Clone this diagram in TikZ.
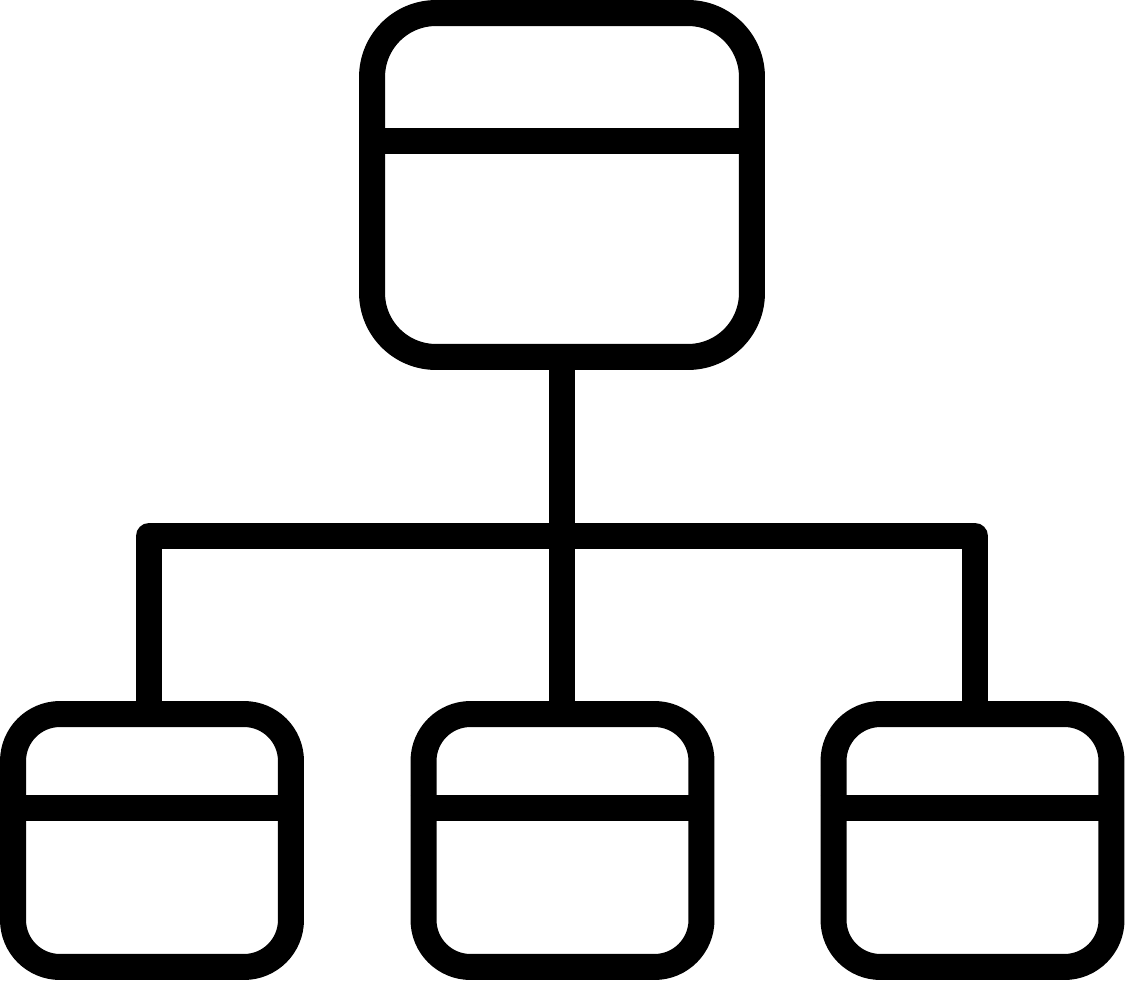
\documentclass[tikz,border=0pt]{standalone}
\begin{document}
\begin{tikzpicture}[x=0.02cm,y=-0.02cm,
  ln/.style={line width=0.52cm,line join=round},
  bigbox/.style={draw,ln,rectangle,rounded corners=1.28cm,minimum width=7.6cm,minimum height=6.88cm,inner sep=0pt},
  smallbox/.style={draw,ln,rectangle,rounded corners=0.94cm,minimum width=5.56cm,minimum height=5.06cm,inner sep=0pt}]
\useasboundingbox (0,0) rectangle (1125,980);
\node[bigbox] (top) at (562,185) {};
\node[smallbox] (b1) at (152,840.5) {};
\node[smallbox] (b2) at (562.5,840.5) {};
\node[smallbox] (b3) at (972.5,840.5) {};
% dividers
\coordinate (dt) at (0,141);
\coordinate (db) at (0,808);
\draw[ln] (top.west |- dt) -- (top.east |- dt);
\draw[ln] (b1.west |- db) -- (b1.east |- db);
\draw[ln] (b2.west |- db) -- (b2.east |- db);
\draw[ln] (b3.west |- db) -- (b3.east |- db);
% connectors
\coordinate (s) at (562,357);
\coordinate (l1) at (149,714);
\coordinate (l3) at (975,714);
\coordinate (bar) at (562,536);
\coordinate (m2) at (562,714);
\draw[ln] (s) -- (m2);
\draw[ln] (l1) |- (bar) -| (l3);
\end{tikzpicture}
\end{document}
